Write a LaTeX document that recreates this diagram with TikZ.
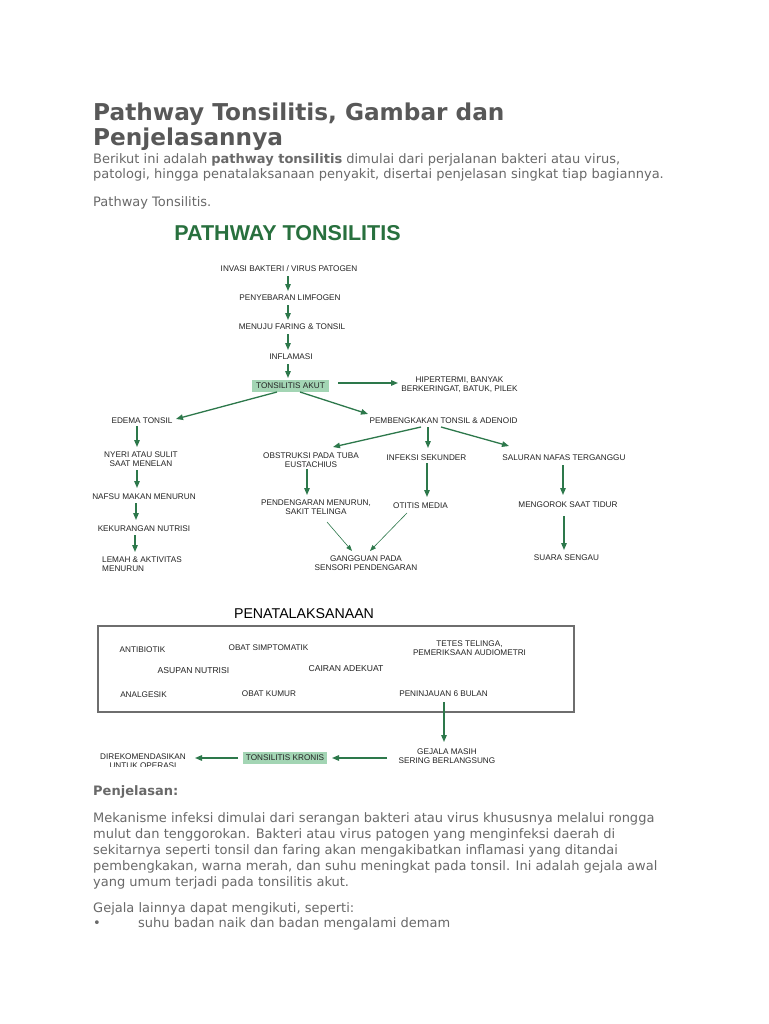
\documentclass[tikz,border=0pt]{standalone}
\usepackage{fontspec}
\setmainfont{DejaVu Sans}
\newfontfamily\arialfont{Liberation Sans}
\usetikzlibrary{arrows.meta,calc}
\definecolor{bodygray}{RGB}{105,105,105}
\definecolor{headgray}{RGB}{88,88,88}
\definecolor{pgreen}{RGB}{45,120,75}
\definecolor{tgreen}{RGB}{40,112,62}
\definecolor{boxgreen}{RGB}{163,213,180}
\definecolor{labtext}{RGB}{35,35,35}
\definecolor{boxline}{RGB}{110,110,110}
\begin{document}
\begin{tikzpicture}[x=1pt,y=-1pt,
  body/.style={anchor=base west,inner sep=0pt,text=bodygray,font=\fontsize{13}{16}\selectfont},
  head/.style={anchor=base west,inner sep=0pt,text=headgray,font=\bfseries\fontsize{23.2}{27}\selectfont},
  lab/.style={inner sep=0pt,text=labtext,align=center,font=\arialfont\fontsize{8.2}{8.8}\selectfont},
  arr/.style={draw=pgreen,line width=1.3pt,-{Triangle[length=7pt,width=5.5pt]}},
  thinarr/.style={draw=pgreen,line width=0.6pt,-{Triangle[length=6pt,width=4.5pt]}},
  gbox/.style={lab,fill=boxgreen,minimum height=12pt,inner xsep=3pt}
]
\useasboundingbox[fill=white] (0,0) rectangle (768,1024);

% ---------- heading and intro ----------
\node[head] (h1) at (93,121) {Pathway Tonsilitis, Gambar dan};
\node[head] (h2) at (93,146) {Penjelasannya};
\node[body] (p1) at (93,164) {Berikut ini adalah \textbf{pathway tonsilitis} dimulai dari perjalanan bakteri atau virus,};
\node[body] (p2) at (93,179) {patologi, hingga penatalaksanaan penyakit, disertai penjelasan singkat tiap bagiannya.};
\node[body] (p3) at (93,207) {Pathway Tonsilitis.};

% ---------- pathway ----------
\node[font=\arialfont\bfseries\fontsize{21.5}{24}\selectfont,text=tgreen,inner sep=0pt] (ptitle) at (287.5,233) {PATHWAY TONSILITIS};

\node[lab] (n1) at (289,269) {INVASI BAKTERI / VIRUS PATOGEN};
\node[lab] (n2) at (290,298) {PENYEBARAN LIMFOGEN};
\node[lab] (n3) at (292,327) {MENUJU FARING \& TONSIL};
\node[lab] (n4) at (291,357) {INFLAMASI};
\node[gbox,minimum width=77pt] (akut) at (290.5,385.5) {TONSILITIS AKUT};
\node[lab] (hiper) at (459.5,384.5) {HIPERTERMI, BANYAK\\BERKERINGAT, BATUK, PILEK};
\node[lab] (edema) at (142,421) {EDEMA TONSIL};
\node[lab] (pemb) at (443.5,421) {PEMBENGKAKAN TONSIL \& ADENOID};
\node[lab] (nyeri) at (141,459) {NYERI ATAU SULIT\\SAAT MENELAN};
\node[lab] (obst) at (311,460) {OBSTRUKSI PADA TUBA\\EUSTACHIUS};
\node[lab] (infeksi) at (426.5,457.5) {INFEKSI SEKUNDER};
\node[lab] (saluran) at (564,458) {SALURAN NAFAS TERGANGGU};
\node[lab] (nafsu) at (144,497) {NAFSU MAKAN MENURUN};
\node[lab] (pend) at (316,507.5) {PENDENGARAN MENURUN,\\SAKIT TELINGA};
\node[lab] (otitis) at (420.5,505.5) {OTITIS MEDIA};
\node[lab] (mengorok) at (568,505) {MENGOROK SAAT TIDUR};
\node[lab] (kek) at (144,529) {KEKURANGAN NUTRISI};
\node[lab,align=left,anchor=west] (lemah) at (102,564.5) {LEMAH \& AKTIVITAS\\MENURUN};
\node[lab] (gangguan) at (366,563.5) {GANGGUAN PADA\\SENSORI PENDENGARAN};
\node[lab] (suara) at (566.5,558) {SUARA SENGAU};

\draw[arr] ($(n1)+(-1,7)$) -- ($(n2)+(-2,-7)$);
\draw[arr] ($(n2)+(-2,7)$) -- ($(n3)+(-4,-7)$);
\draw[arr] ($(n3)+(-4,7)$) -- ($(n4)+(-3,-7)$);
\draw[arr] ($(n4)+(-3,7)$) -- ($(akut)+(-2.5,-7.5)$);
\draw[arr] ($(akut)+(47.5,-2.5)$) -- ($(hiper)+(-61.5,-1.5)$);
\draw[arr] ($(akut)+(-13.5,6.5)$) -- ($(edema)+(34,-2)$);
\draw[arr] ($(akut)+(9.5,6.5)$) -- ($(pemb)+(-75.5,-7)$);
\draw[arr] ($(edema)+(-5,5)$) -- ($(nyeri)+(-4,-12)$);
\draw[arr] ($(nyeri)+(-4,11)$) -- ($(nafsu)+(-7,-9)$);
\draw[arr] ($(nafsu)+(-8,6)$) -- ($(kek)+(-8,-9)$);
\draw[arr] ($(kek)+(-9,6)$) -- ($(lemah.west)+(33,-12.5)$);
\draw[arr] ($(pemb)+(-22.5,6)$) -- ($(obst)+(22,-13)$);
\draw[arr] ($(pemb)+(-15.5,6)$) -- ($(infeksi)+(1.5,-9.5)$);
\draw[arr] ($(pemb)+(-2.5,6)$) -- ($(saluran)+(-55,-12)$);
\draw[arr] ($(obst)+(-4,9)$) -- ($(pend)+(-9,-12.5)$);
\draw[arr] ($(infeksi)+(0.5,5.5)$) -- ($(otitis)+(6.5,-8.5)$);
\draw[arr] ($(saluran)+(-1,7)$) -- ($(mengorok)+(-5,-10)$);
\draw[arr] ($(mengorok)+(-4,11)$) -- ($(suara)+(-2.5,-8)$);
\draw[thinarr] ($(pend)+(11,14.5)$) -- ($(gangguan)+(-14,-12.5)$);
\draw[thinarr] ($(otitis)+(-13.5,7.5)$) -- ($(gangguan)+(4,-12.5)$);

% ---------- penatalaksanaan ----------
\node[font=\arialfont\fontsize{14.2}{16}\selectfont,text=black,inner sep=0pt] (penat) at (304,614) {PENATALAKSANAAN};
\node[draw=boxline,line width=1.2pt,minimum width=476pt,minimum height=86pt,inner sep=0pt] (pbox) at (336,669) {};
\node[lab] (antib) at (142.5,650) {ANTIBIOTIK};
\node[lab] (obsim) at (268.5,648) {OBAT SIMPTOMATIK};
\node[lab] (tetes) at (469.5,648) {TETES TELINGA,\\PEMERIKSAAN AUDIOMETRI};
\node[lab,font=\arialfont\fontsize{8.6}{9}\selectfont] (asupan) at (193.5,671) {ASUPAN NUTRISI};
\node[lab,font=\arialfont\fontsize{8.6}{9}\selectfont] (cairan) at (346,669) {CAIRAN ADEKUAT};
\node[lab] (analg) at (143.5,695) {ANALGESIK};
\node[lab] (kumur) at (269,694) {OBAT KUMUR};
\node[lab] (penin) at (443.5,694) {PENINJAUAN 6 BULAN};
\node[lab] (gejala) at (447,756.5) {GEJALA MASIH\\SERING BERLANGSUNG};
\node[gbox,minimum width=84pt] (kronis) at (285,758) {TONSILITIS KRONIS};
\begin{scope}
  \clip (0,0) rectangle (768,766);
  \node[lab] (direk) at (143,761.5) {DIREKOMENDASIKAN\\UNTUK OPERASI};
\end{scope}
\draw[arr] ($(penin)+(0.5,8)$) -- ($(gejala)+(-3,-14.5)$);
\draw[arr] ($(gejala)+(-60,1.5)$) -- ($(kronis)+(47,0)$);
\draw[arr] ($(kronis)+(-47,0)$) -- ($(direk)+(52,-3.5)$);

% ---------- penjelasan ----------
\node[body,font=\bfseries\fontsize{13}{16}\selectfont] (pj) at (93,795) {Penjelasan:};
\node[body] (q1) at (93,822.5) {Mekanisme infeksi dimulai dari serangan bakteri atau virus khususnya melalui rongga};
\node[body] (q2) at (93,838) {mulut dan tenggorokan. Bakteri atau virus patogen yang menginfeksi daerah di};
\node[body] (q3) at (93,854) {sekitarnya seperti tonsil dan faring akan mengakibatkan inflamasi yang ditandai};
\node[body] (q4) at (93,870) {pembengkakan, warna merah, dan suhu meningkat pada tonsil. Ini adalah gejala awal};
\node[body] (q5) at (93,886) {yang umum terjadi pada tonsilitis akut.};
\node[body] (g1) at (93,912) {Gejala lainnya dapat mengikuti, seperti:};
\node[body] (bul) at (93,927) {\textbullet};
\node[body] (g2) at (138,927) {suhu badan naik dan badan mengalami demam};
\end{tikzpicture}
\end{document}
